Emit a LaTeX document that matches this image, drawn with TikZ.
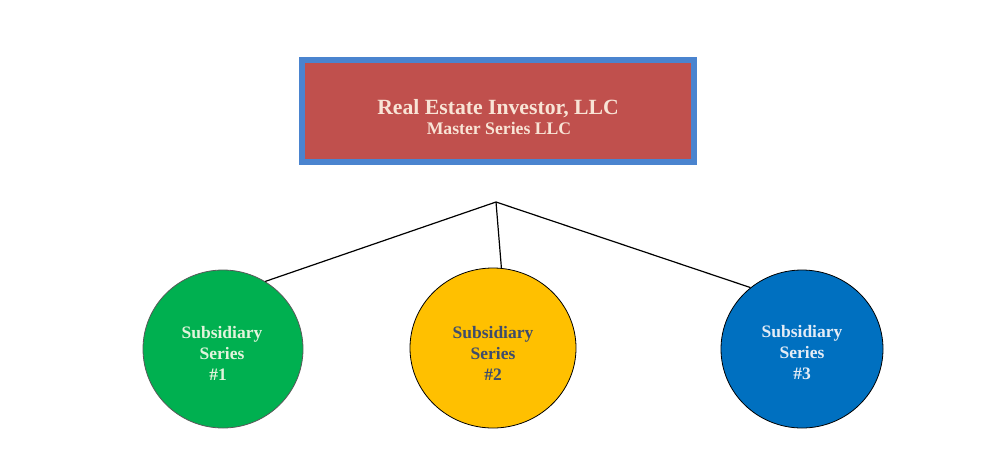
\documentclass[tikz,border=0pt]{standalone}
\usepackage{fontspec}
\setmainfont{Liberation Serif}
\usetikzlibrary{shapes.geometric,shadows}
\definecolor{boxred}{HTML}{C0504D}
\definecolor{boxblue}{HTML}{4A84CF}
\definecolor{boxtext}{HTML}{F8E4D6}
\definecolor{cgreen}{HTML}{00B050}
\definecolor{cyellow}{HTML}{FFC000}
\definecolor{cblue}{HTML}{0070C0}
\definecolor{tgreen}{HTML}{E2F4DC}
\definecolor{tyellow}{HTML}{3E4C6C}
\definecolor{tblue}{HTML}{E4ECF6}
\tikzset{
  master/.style={draw=boxblue, line width=6pt, fill=boxred, minimum width=392pt, minimum height=102pt, inner sep=0pt,
    drop shadow={shadow xshift=2pt, shadow yshift=-3pt, opacity=0.35, fill=black!60}},
  subs/.style={ellipse, line width=0.8pt, minimum width=162pt, minimum height=158pt, inner sep=0pt},
  subtext/.style={font=\bfseries\fontsize{17.5}{21}\selectfont, align=center},
  link/.style={line width=1.2pt, black}
}
\begin{document}
\begin{tikzpicture}[x=1pt,y=-1pt]
\useasboundingbox (0,0) rectangle (1008,464);
\node[master] (box) at (498,111) {};
\node[anchor=base, text=boxtext, font=\bfseries\fontsize{21.7}{23}\selectfont, inner sep=0pt] (t1) at (498,114) {Real Estate Investor, LLC};
\node[anchor=base, text=boxtext, font=\bfseries\fontsize{17.7}{19}\selectfont, inner sep=0pt] (t2) at (499,134) {Master Series LLC};
\coordinate (j) at (496,202);
\node[subs, fill=cgreen, draw=black!65, minimum width=160pt] (c1) at (223,349) {};
\node[subs, fill=cyellow, draw=black, minimum width=166pt, minimum height=160pt] (c2) at (493,348) {};
\node[subs, fill=cblue, draw=black] (c3) at (802,349) {};
\node[subtext, text=tgreen] (l1) at (222,353) {Subsidiary\\Series\\\#1\hspace*{8pt}};
\node[subtext, text=tyellow] (l2) at (493,353) {Subsidiary\\Series\\\#2};
\node[subtext, text=tblue] (l3) at (802,353) {Subsidiary\\Series\\\#3};
\draw[link] (j) -- (c1.58);
\draw[link] (j) -- (c2.84);
\draw[link] (j) -- (c3.130);
\end{tikzpicture}
\end{document}
